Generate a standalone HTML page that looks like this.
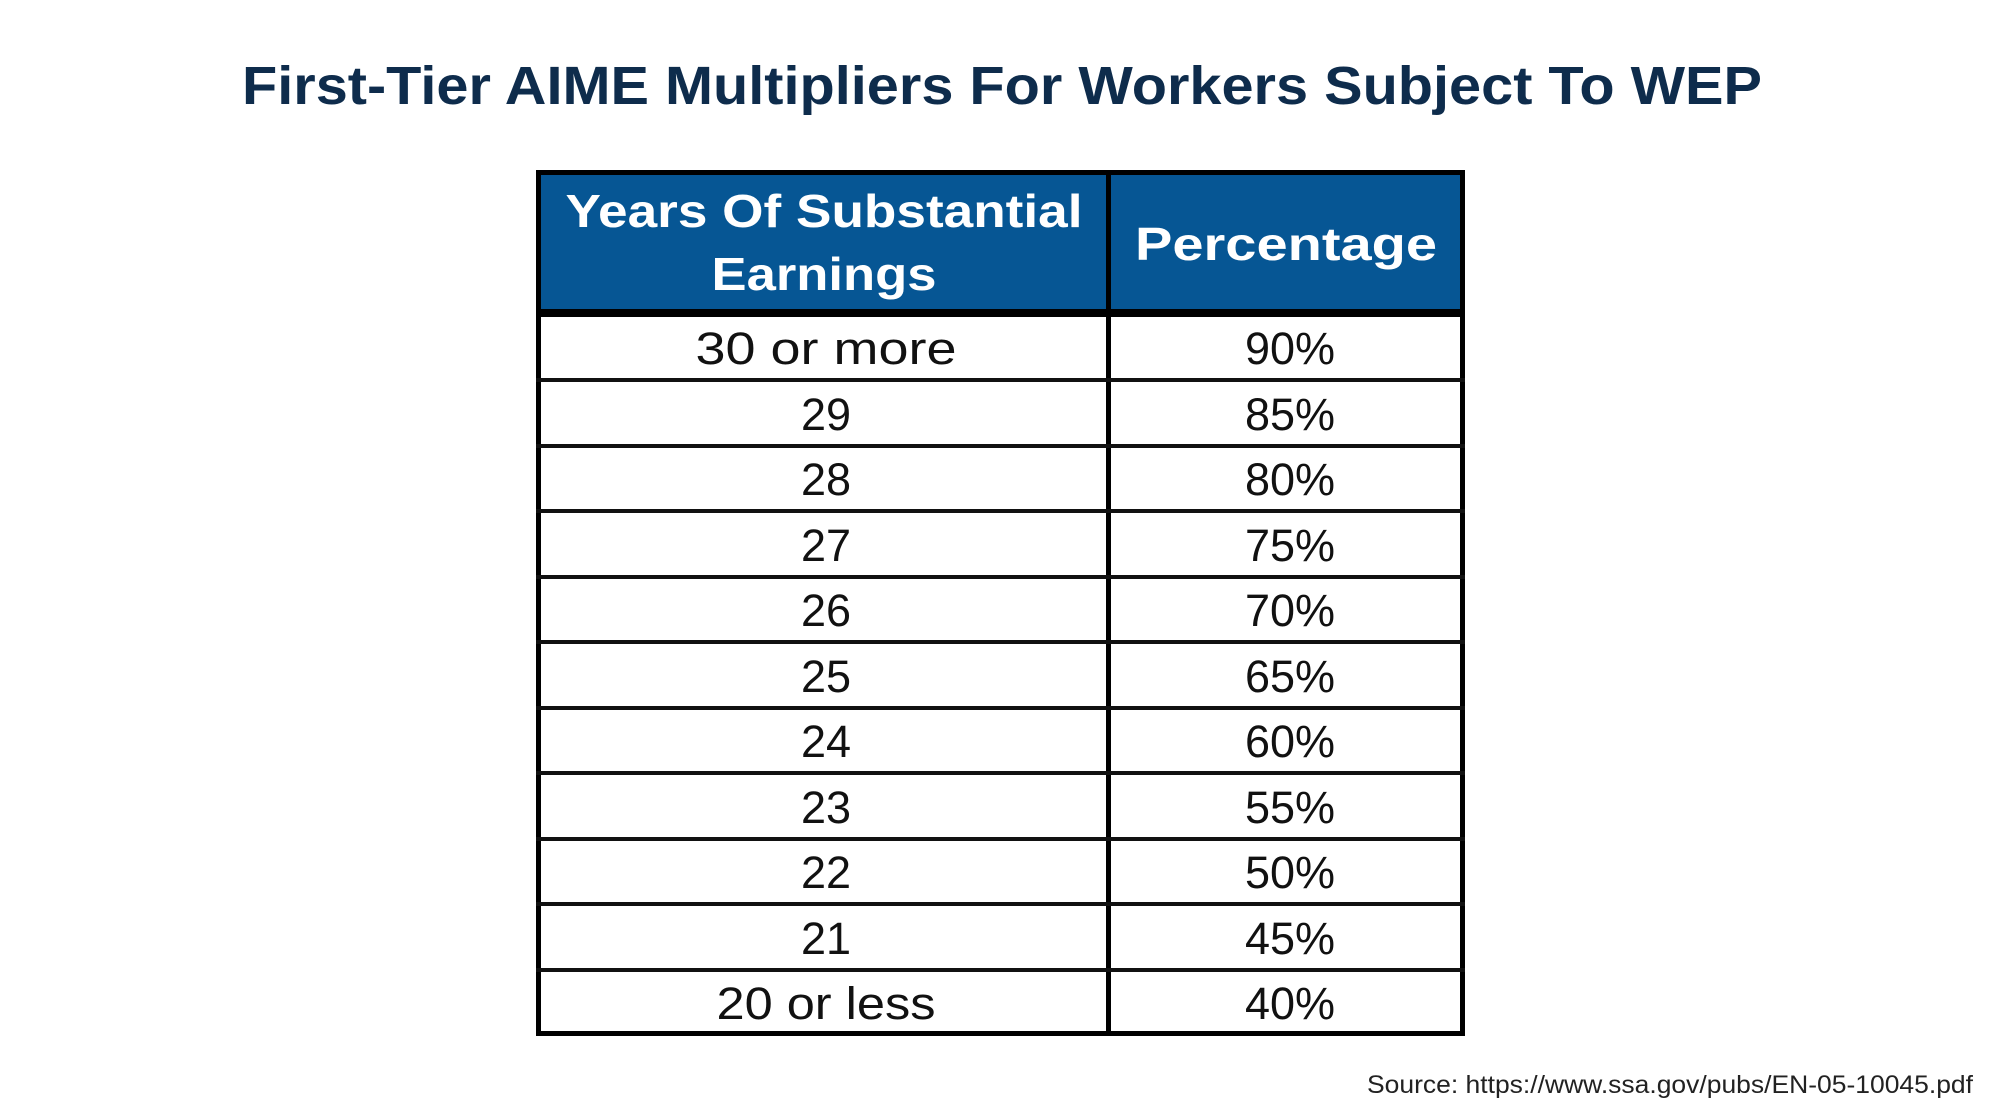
<!DOCTYPE html>
<html><head><meta charset="utf-8"><style>
html,body{margin:0;padding:0;background:#fff;}
svg{display:block;}
</style></head><body>
<svg width="2000" height="1110" viewBox="0 0 2000 1110" xmlns="http://www.w3.org/2000/svg" font-family="Liberation Sans, sans-serif">
<rect width="2000" height="1110" fill="#fff"/>
<text x="1002" y="104" text-anchor="middle" font-size="54" font-weight="bold" fill="#0e2c4c" textLength="1520" lengthAdjust="spacingAndGlyphs">First-Tier AIME Multipliers For Workers Subject To WEP</text>
<g transform="translate(-2,0)">
<rect x="540" y="172" width="925" height="143" fill="#065694"/>
<g fill="#000">
<rect x="538" y="170" width="929" height="5"/>
<rect x="538" y="170" width="5" height="866"/>
<rect x="1462" y="170" width="5" height="866"/>
<rect x="1108" y="170" width="5" height="866"/>
<rect x="538" y="309" width="929" height="8"/>
<rect x="538" y="1031" width="929" height="5"/>
</g>
<g fill="#111">
<rect x="538" y="378" width="929" height="4"/>
<rect x="538" y="444" width="929" height="4"/>
<rect x="538" y="509" width="929" height="4"/>
<rect x="538" y="575" width="929" height="4"/>
<rect x="538" y="640" width="929" height="4"/>
<rect x="538" y="706" width="929" height="4"/>
<rect x="538" y="771" width="929" height="4"/>
<rect x="538" y="837" width="929" height="4"/>
<rect x="538" y="902" width="929" height="4"/>
<rect x="538" y="968" width="929" height="4"/>
</g>
<g fill="#fff" font-weight="bold" font-size="46" text-anchor="middle">
<text x="826" y="227" textLength="517" lengthAdjust="spacingAndGlyphs">Years Of Substantial</text>
<text x="826" y="290" textLength="225" lengthAdjust="spacingAndGlyphs">Earnings</text>
<text x="1288" y="260" textLength="302" lengthAdjust="spacingAndGlyphs">Percentage</text>
</g>
<g fill="#111" font-size="45" text-anchor="middle" transform="translate(0,-2)">
<text x="828" y="366" textLength="261" lengthAdjust="spacingAndGlyphs">30 or more</text><text x="1292" y="366">90%</text>
<text x="828" y="432">29</text><text x="1292" y="432">85%</text>
<text x="828" y="497">28</text><text x="1292" y="497">80%</text>
<text x="828" y="563">27</text><text x="1292" y="563">75%</text>
<text x="828" y="628">26</text><text x="1292" y="628">70%</text>
<text x="828" y="694">25</text><text x="1292" y="694">65%</text>
<text x="828" y="759">24</text><text x="1292" y="759">60%</text>
<text x="828" y="825">23</text><text x="1292" y="825">55%</text>
<text x="828" y="890">22</text><text x="1292" y="890">50%</text>
<text x="828" y="956">21</text><text x="1292" y="956">45%</text>
<text x="828" y="1021" textLength="219" lengthAdjust="spacingAndGlyphs">20 or less</text><text x="1292" y="1021">40%</text>
</g>
</g>
<text x="1973" y="1093" text-anchor="end" font-size="25" fill="#222" textLength="606" lengthAdjust="spacingAndGlyphs">Source: https://www.ssa.gov/pubs/EN-05-10045.pdf</text>
</svg>
</body></html>
